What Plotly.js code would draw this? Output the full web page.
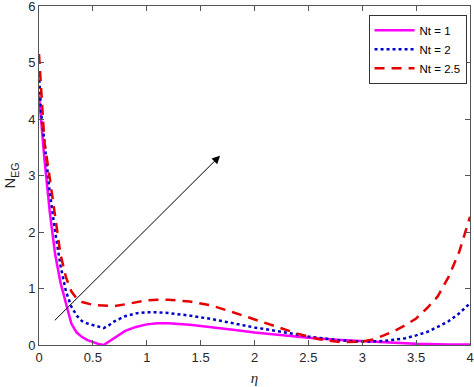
<!DOCTYPE html>
<html>
<head>
<meta charset="utf-8">
<script src="https://cdn.plot.ly/plotly-3.0.1.min.js"></script>
<style>html,body{margin:0;padding:0;background:#fff}#chart{width:474px;height:387px}</style>
</head>
<body>
<div id="chart"></div>
<script>
const seriesNames = ["Nt = 1", "Nt = 2", "Nt = 2.5"];

const eta1 = [0, 0.05, 0.1, 0.15, 0.2, 0.25, 0.3, 0.35, 0.4, 0.45, 0.5, 0.55, 0.6, 0.65, 0.7, 0.8, 0.9, 1.0, 1.1, 1.2, 1.4, 1.6, 1.8, 2.0, 2.2, 2.5, 2.8, 3.0, 3.3, 3.5, 3.8, 4.0];
const neg1 = [4.42, 3.3, 2.35, 1.6, 1.1, 0.72, 0.38, 0.22, 0.14, 0.085, 0.05, 0.02, 0.0, 0.06, 0.13, 0.25, 0.32, 0.365, 0.385, 0.385, 0.36, 0.32, 0.27, 0.22, 0.18, 0.13, 0.09, 0.07, 0.04, 0.02, 0.01, 0.01];

const eta2 = [0, 0.02, 0.05, 0.08, 0.1, 0.15, 0.2, 0.25, 0.3, 0.35, 0.4, 0.45, 0.5, 0.55, 0.6, 0.65, 0.7, 0.8, 0.9, 1.0, 1.1, 1.2, 1.4, 1.6, 1.8, 2.0, 2.2, 2.5, 2.8, 3.0, 3.2, 3.4, 3.5, 3.6, 3.7, 3.8, 3.9, 4.0];
const neg2 = [4.8, 4.1, 3.6, 3.0, 2.7, 2.0, 1.4, 0.95, 0.68, 0.52, 0.42, 0.38, 0.35, 0.32, 0.3, 0.35, 0.42, 0.51, 0.56, 0.58, 0.58, 0.565, 0.52, 0.46, 0.38, 0.31, 0.25, 0.15, 0.08, 0.06, 0.07, 0.12, 0.17, 0.23, 0.32, 0.42, 0.56, 0.74];

const eta3 = [0, 0.02, 0.05, 0.1, 0.15, 0.2, 0.25, 0.3, 0.35, 0.4, 0.5, 0.6, 0.7, 0.8, 0.9, 1.0, 1.1, 1.2, 1.4, 1.6, 1.8, 2.0, 2.2, 2.4, 2.6, 2.8, 3.0, 3.1, 3.2, 3.3, 3.4, 3.5, 3.6, 3.7, 3.8, 3.9, 4.0];
const neg3 = [5.15, 4.5, 3.6, 2.95, 2.25, 1.6, 1.2, 0.95, 0.82, 0.76, 0.71, 0.7, 0.69, 0.72, 0.76, 0.79, 0.8, 0.8, 0.77, 0.7, 0.58, 0.45, 0.32, 0.2, 0.1, 0.05, 0.06, 0.1, 0.17, 0.25, 0.35, 0.47, 0.65, 0.86, 1.2, 1.65, 2.27];

const xTicks = [0, 0.5, 1, 1.5, 2, 2.5, 3, 3.5, 4];
const yTicks = [0, 1, 2, 3, 4, 5, 6];

const traces = [
  {x: eta1, y: neg1, name: seriesNames[0], mode: 'lines', line: {color: '#ff00ff', width: 2.5}},
  {x: eta2, y: neg2, name: seriesNames[1], mode: 'lines', line: {color: '#0000cc', width: 2.5, dash: 'dot'}},
  {x: eta3, y: neg3, name: seriesNames[2], mode: 'lines', line: {color: '#e60000', width: 2.5, dash: '10px,7px'}}
];

const axisCommon = {
  showgrid: false, zeroline: false, showline: true, mirror: 'ticks',
  linecolor: '#555', linewidth: 1, ticks: 'inside', ticklen: 5, tickcolor: '#555',
  ticklabeloverflow: 'allow',
  tickfont: {family: 'Liberation Sans, Arial, sans-serif', size: 13, color: '#262626'}
};

const layout = {
  width: 474, height: 387,
  margin: {l: 39, r: 4, t: 6, b: 42},
  paper_bgcolor: '#fff', plot_bgcolor: '#fff',
  showlegend: true,
  legend: {x: 0.992, y: 0.974, xanchor: 'right', yanchor: 'top', bgcolor: '#fff',
    bordercolor: '#333', borderwidth: 1, itemwidth: 40,
    font: {family: 'Liberation Sans, Arial, sans-serif', size: 11.5, color: '#000'}},
  xaxis: Object.assign({}, axisCommon, {range: [0, 4], tickvals: xTicks, ticktext: xTicks.map(String),
    title: {text: 'η', standoff: 8, font: {family: 'Liberation Serif, Times New Roman, serif', size: 15, color: '#262626', style: 'italic'}}}),
  yaxis: Object.assign({}, axisCommon, {range: [0, 6], tickvals: yTicks, ticktext: yTicks.map(String),
    title: {text: 'N<sub>EG</sub>', standoff: 8, font: {family: 'Liberation Sans, Arial, sans-serif', size: 15, color: '#262626'}}}),
  annotations: [{
    x: 1.68, y: 3.35, ax: 0.133, ay: 0.41, xref: 'x', yref: 'y', axref: 'x', ayref: 'y',
    showarrow: true, arrowhead: 2, arrowsize: 1.6, arrowwidth: 1, arrowcolor: '#000', text: ''
  }]
};

Plotly.newPlot('chart', traces, layout, {displayModeBar: false, staticPlot: true});
</script>
</body>
</html>
